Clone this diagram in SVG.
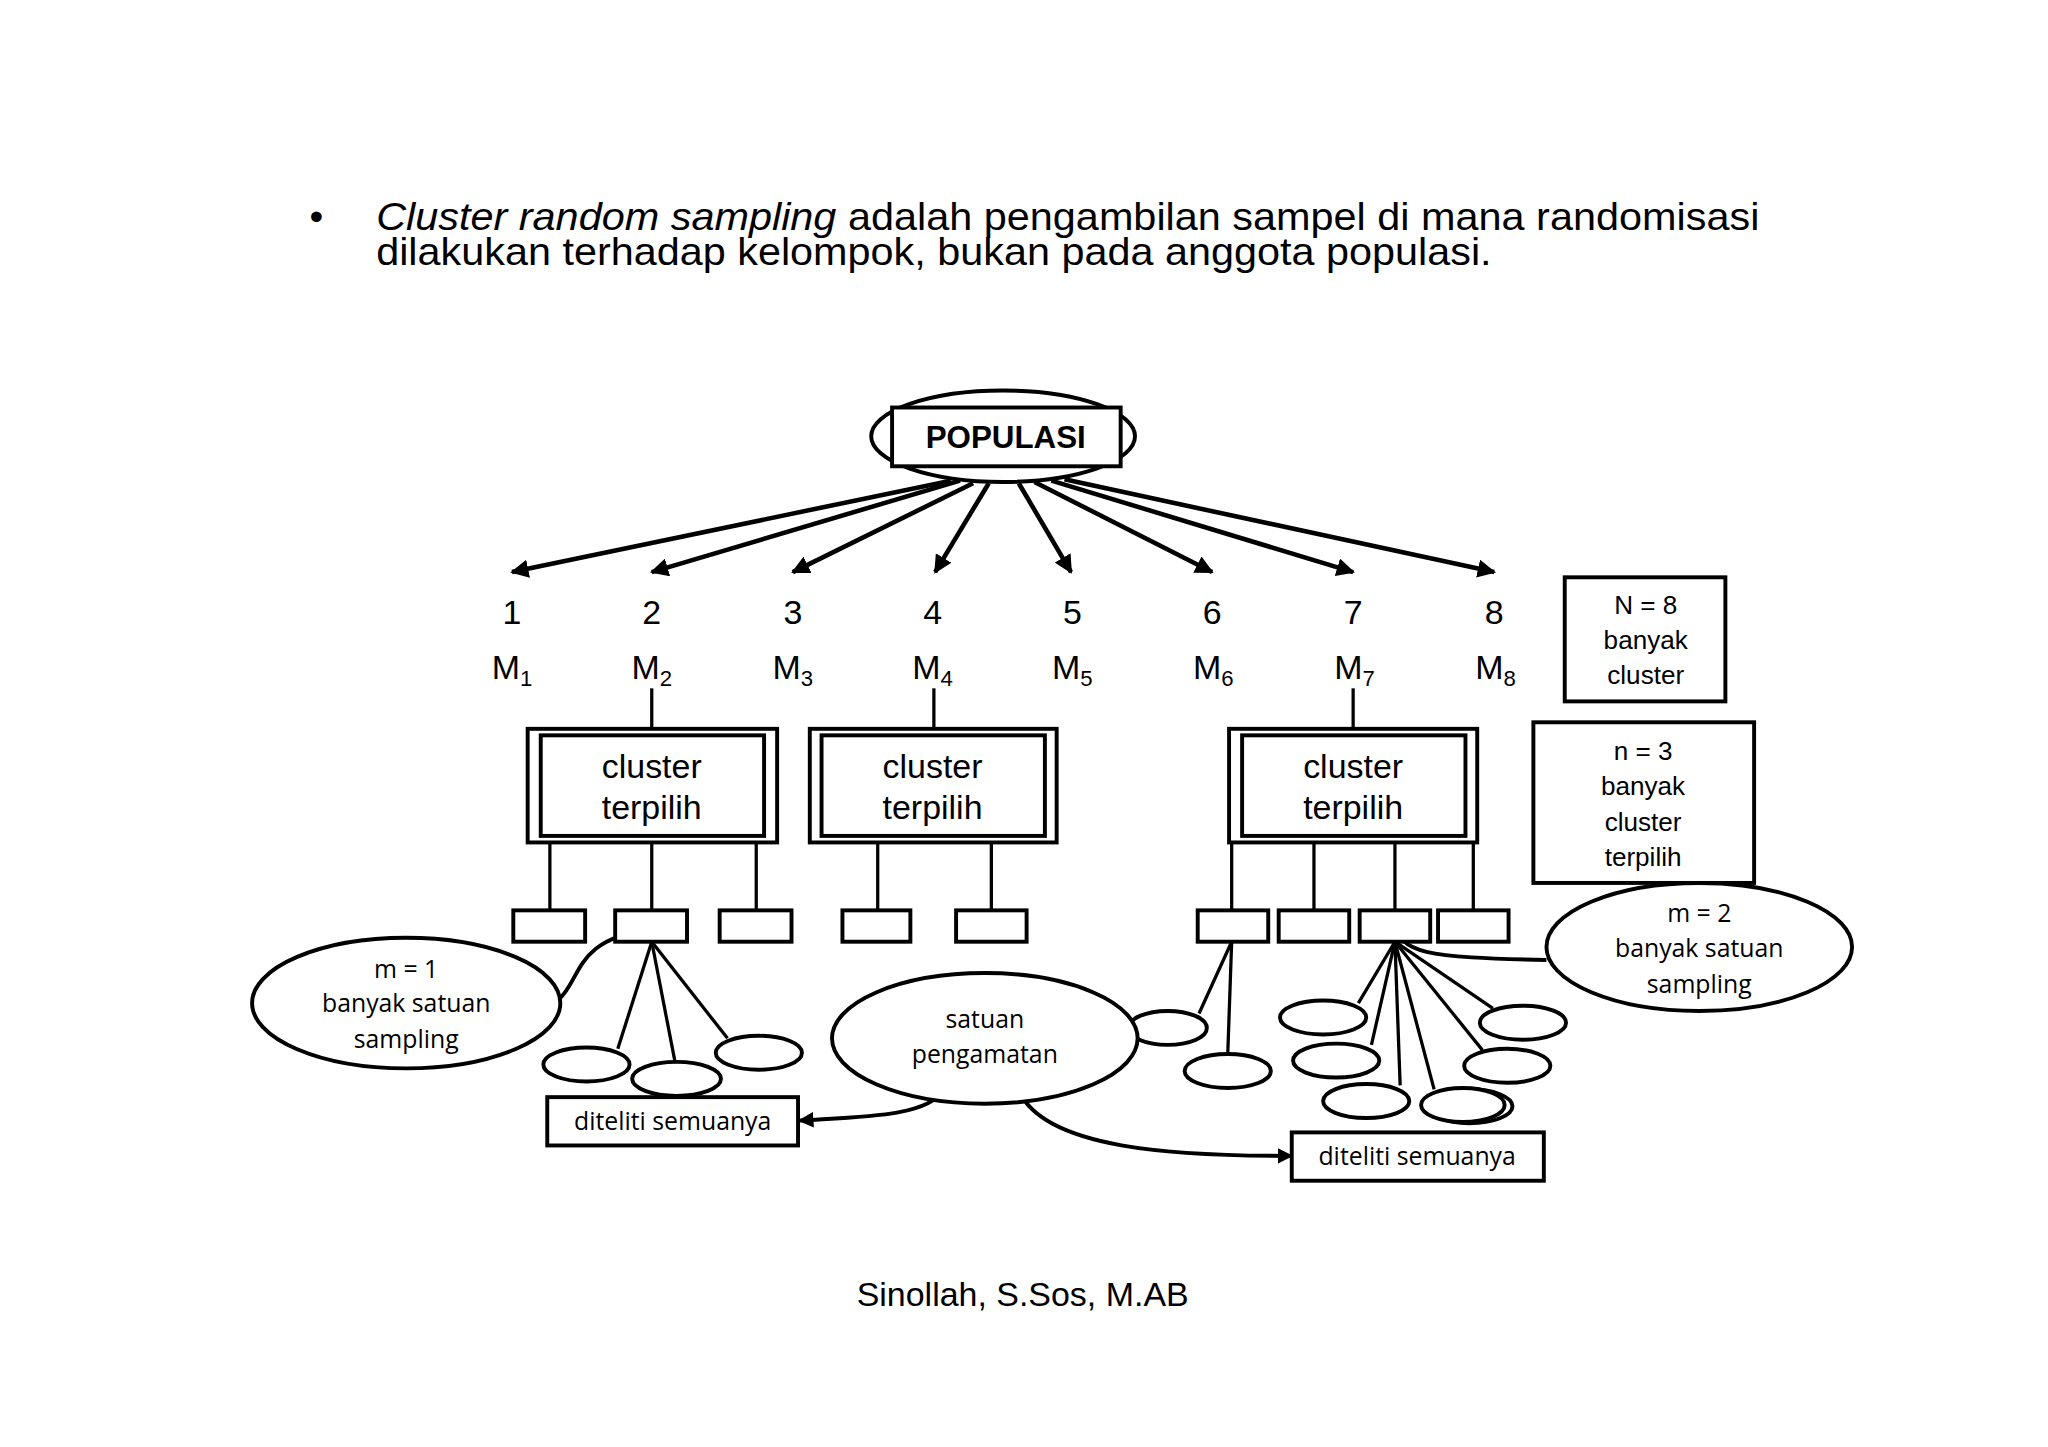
<svg xmlns="http://www.w3.org/2000/svg" width="2048" height="1447" viewBox="0 0 2048 1447">
<style>
.a{font-family:"Liberation Sans",Arial,sans-serif;fill:#000}
.c{font-family:"Open Sans","Noto Sans",sans-serif;fill:#000;font-size:19px;text-anchor:middle}
.s{fill:none;stroke:#000;stroke-width:3}
.t{fill:#fff;stroke:#000;stroke-width:3}
.m{text-anchor:middle;font-size:26px}
</style>
<defs><marker id="ah" viewBox="0 0 10 10" refX="9" refY="5" markerWidth="4" markerHeight="4" orient="auto"><path d="M0,0L10,5L0,10z"/></marker></defs>
<rect width="2048" height="1447" fill="#fff"/>
<g transform="scale(1.30612)">
<g id="title" class="a" font-size="30">
<text x="237" y="176">•</text>
<text x="288" y="176" textLength="1059" lengthAdjust="spacingAndGlyphs"><tspan font-style="italic">Cluster random sampling</tspan> adalah pengambilan sampel di mana randomisasi</text>
<text x="288" y="203" textLength="854" lengthAdjust="spacingAndGlyphs">dilakukan terhadap kelompok, bukan pada anggota populasi.</text>
</g>
<g id="connectors" stroke="#000" fill="none">
<g stroke-width="3.5" marker-end="url(#ah)">
<line x1="728" y1="368" x2="392" y2="438"/>
<line x1="735" y1="368" x2="499" y2="438"/>
<line x1="745" y1="370" x2="607" y2="438"/>
<line x1="757" y1="370" x2="716" y2="438"/>
<line x1="780" y1="370" x2="820" y2="438"/>
<line x1="792" y1="369" x2="928" y2="438"/>
<line x1="805" y1="368" x2="1036" y2="438"/>
<line x1="815" y1="367" x2="1144" y2="438"/>
</g>
<g stroke-width="2.5">
<line x1="499" y1="527" x2="499" y2="558"/><line x1="715" y1="527" x2="715" y2="558"/><line x1="1036" y1="527" x2="1036" y2="558"/>
<line x1="421" y1="645" x2="421" y2="697"/><line x1="499" y1="645" x2="499" y2="697"/><line x1="579" y1="645" x2="579" y2="697"/>
<line x1="672" y1="645" x2="672" y2="697"/><line x1="759" y1="645" x2="759" y2="697"/>
<line x1="943" y1="645" x2="943" y2="697"/><line x1="1006" y1="645" x2="1006" y2="697"/><line x1="1068" y1="645" x2="1068" y2="697"/><line x1="1128" y1="645" x2="1128" y2="697"/>
<line x1="499" y1="721" x2="473" y2="803"/><line x1="499" y1="721" x2="517" y2="814"/><line x1="499" y1="721" x2="557" y2="795"/>
<line x1="943" y1="721" x2="918" y2="776"/><line x1="943" y1="721" x2="940" y2="807"/>
<line x1="1068" y1="721" x2="1040" y2="768"/><line x1="1068" y1="721" x2="1050" y2="800"/><line x1="1068" y1="721" x2="1072" y2="831"/>
<line x1="1068" y1="721" x2="1098" y2="834"/><line x1="1068" y1="721" x2="1143" y2="772"/><line x1="1068" y1="721" x2="1135" y2="804"/>
</g>
<path d="M428,765 C445,750 440,718 498,712" stroke-width="3"/>
<path d="M1068,706 C1072,730 1090,733 1184,735" stroke-width="3"/>
<path d="M722,835 C710,855 660,855 612,858" stroke-width="3" marker-end="url(#ah)"/>
<path d="M780,835 C800,880 900,885 989,885" stroke-width="3" marker-end="url(#ah)"/>
</g>
<g id="populasi">
<ellipse cx="768" cy="334" rx="101" ry="35" class="s"/>
<rect x="683" y="312" width="175" height="45" class="t" stroke-width="4"/>
<text x="770" y="343" class="a" font-size="24" font-weight="bold" text-anchor="middle">POPULASI</text>
</g>
<g id="labels" class="a">
<text x="392" y="478" class="m">1</text><text x="499" y="478" class="m">2</text><text x="607" y="478" class="m">3</text><text x="714" y="478" class="m">4</text>
<text x="821" y="478" class="m">5</text><text x="928" y="478" class="m">6</text><text x="1036" y="478" class="m">7</text><text x="1144" y="478" class="m">8</text>
<g font-size="26" text-anchor="middle">
<text x="392" y="520">M<tspan font-size="17" dy="5">1</tspan></text>
<text x="499" y="520">M<tspan font-size="17" dy="5">2</tspan></text>
<text x="607" y="520">M<tspan font-size="17" dy="5">3</tspan></text>
<text x="714" y="520">M<tspan font-size="17" dy="5">4</tspan></text>
<text x="821" y="520">M<tspan font-size="17" dy="5">5</tspan></text>
<text x="929" y="520">M<tspan font-size="17" dy="5">6</tspan></text>
<text x="1037" y="520">M<tspan font-size="17" dy="5">7</tspan></text>
<text x="1145" y="520">M<tspan font-size="17" dy="5">8</tspan></text>
</g>
</g>
<g id="cluster2"><rect x="404" y="558" width="191" height="87" class="s"/><rect x="414" y="563" width="171" height="77" class="s" stroke-width="3.5"/>
<text x="499" y="596" class="a m" font-size="24">cluster</text><text x="499" y="627" class="a m" font-size="24">terpilih</text></g>
<g id="cluster4"><rect x="620" y="558" width="189" height="87" class="s"/><rect x="629" y="563" width="171" height="77" class="s" stroke-width="3.5"/>
<text x="714" y="596" class="a m" font-size="24">cluster</text><text x="714" y="627" class="a m" font-size="24">terpilih</text></g>
<g id="cluster7"><rect x="941" y="558" width="190" height="87" class="s"/><rect x="951" y="563" width="171" height="77" class="s" stroke-width="3.5"/>
<text x="1036" y="596" class="a m" font-size="24">cluster</text><text x="1036" y="627" class="a m" font-size="24">terpilih</text></g>
<g id="N"><rect x="1198" y="442" width="123" height="95" class="s"/>
<g class="a" font-size="20" text-anchor="middle"><text x="1260" y="470">N = 8</text><text x="1260" y="497">banyak</text><text x="1260" y="524">cluster</text></g></g>
<g id="n"><rect x="1174" y="553" width="169" height="123" class="s"/>
<g class="a" font-size="20" text-anchor="middle"><text x="1258" y="582">n = 3</text><text x="1258" y="609">banyak</text><text x="1258" y="636">cluster</text><text x="1258" y="663">terpilih</text></g></g>
<g id="units">
<rect x="393" y="697" width="55" height="24" class="t"/><rect x="471" y="697" width="55" height="24" class="t"/><rect x="551" y="697" width="55" height="24" class="t"/>
<rect x="645" y="697" width="52" height="24" class="t"/><rect x="732" y="697" width="54" height="24" class="t"/>
<rect x="917" y="697" width="54" height="24" class="t"/><rect x="979" y="697" width="54" height="24" class="t"/><rect x="1041" y="697" width="54" height="24" class="t"/><rect x="1101" y="697" width="54" height="24" class="t"/>
</g>
<g id="obs">
<ellipse cx="449" cy="815" rx="33" ry="13" class="t"/><ellipse cx="518" cy="826" rx="34" ry="13" class="t"/><ellipse cx="581" cy="806" rx="33" ry="13" class="t"/>
<ellipse cx="894" cy="787" rx="30" ry="13" class="t"/><ellipse cx="940" cy="820" rx="33" ry="13" class="t"/>
<ellipse cx="1013" cy="779" rx="33" ry="13" class="t"/><ellipse cx="1023" cy="812" rx="33" ry="13" class="t"/><ellipse cx="1046" cy="843" rx="33" ry="13" class="t"/>
<ellipse cx="1125" cy="847" rx="33" ry="13" class="t"/><ellipse cx="1120" cy="846" rx="32" ry="13" class="t"/>
<ellipse cx="1166" cy="783" rx="33" ry="13" class="t"/><ellipse cx="1154" cy="816" rx="33" ry="13" class="t"/>
</g>
<g id="m1"><ellipse cx="311" cy="768" rx="118" ry="50" class="t"/>
<text x="311" y="749" class="c">m = 1</text><text x="311" y="775" class="c">banyak satuan</text><text x="311" y="802" class="c">sampling</text></g>
<g id="m2"><ellipse cx="1301" cy="725" rx="117" ry="49" class="t"/>
<text x="1301" y="706" class="c">m = 2</text><text x="1301" y="733" class="c">banyak satuan</text><text x="1301" y="760" class="c">sampling</text></g>
<g id="satuan"><ellipse cx="754" cy="795" rx="117" ry="50" class="t"/>
<text x="754" y="787" class="c">satuan</text><text x="754" y="814" class="c">pengamatan</text></g>
<g id="d1"><rect x="419" y="840" width="192" height="37" class="s"/><text x="515" y="865" class="c" font-size="17">diteliti semuanya</text></g>
<g id="d2"><rect x="989" y="867" width="193" height="37" class="s"/><text x="1085" y="892" class="c" font-size="17">diteliti semuanya</text></g>
<text x="783" y="1000" class="a" font-size="26" text-anchor="middle">Sinollah, S.Sos, M.AB</text>
</g>
</svg>
